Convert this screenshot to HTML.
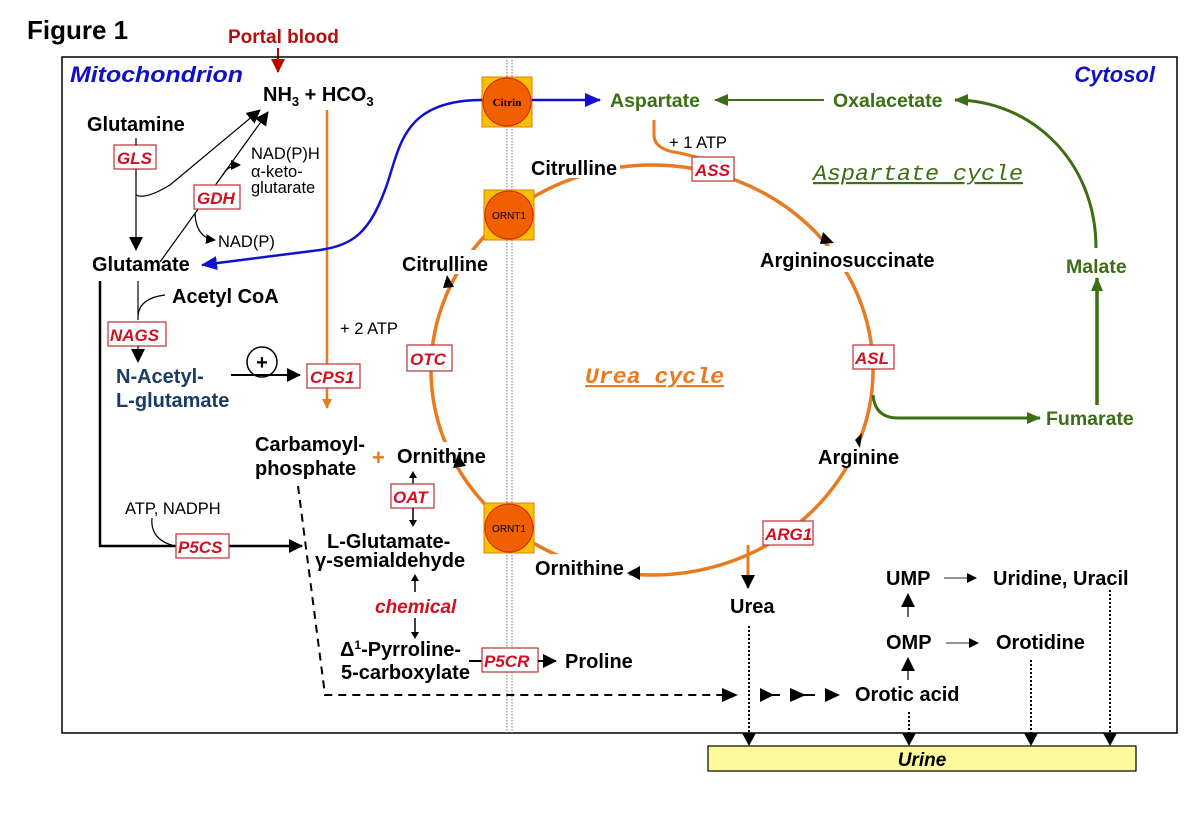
<!DOCTYPE html>
<html><head><meta charset="utf-8"><style>
html,body{margin:0;padding:0;background:#fff;}
svg{display:block;font-family:"Liberation Sans",Arial,sans-serif;}
.b{font-weight:bold;font-size:20px;fill:#000;}
.e{font-weight:bold;font-style:italic;font-size:17px;fill:#d01020;}
.g{font-weight:bold;font-size:19.5px;fill:#3c6e14;}
.s{font-size:16.5px;fill:#000;}
.bx{fill:#fff;stroke:#c04040;stroke-width:1.3;}
.w{fill:#fff;}
</style></head><body>
<svg width="1200" height="831" viewBox="0 0 1200 831" xmlns="http://www.w3.org/2000/svg">
<defs>
<marker id="ak" markerWidth="10" markerHeight="10" refX="9" refY="5" orient="auto" markerUnits="userSpaceOnUse"><path d="M0,0 L10,5 L0,10 z" fill="#000"/></marker>
<marker id="ak2" markerWidth="14" markerHeight="14" refX="13" refY="7" orient="auto" markerUnits="userSpaceOnUse"><path d="M0,0 L14,7 L0,14 z" fill="#000"/></marker>
<marker id="ab" markerWidth="16" markerHeight="14" refX="15" refY="7" orient="auto" markerUnits="userSpaceOnUse"><path d="M0,0 L16,7 L0,14 z" fill="#1010d0"/></marker>
<marker id="ag" markerWidth="14" markerHeight="12" refX="13" refY="6" orient="auto" markerUnits="userSpaceOnUse"><path d="M0,0 L14,6 L0,12 z" fill="#3c6e14"/></marker>
<marker id="ao" markerWidth="10" markerHeight="10" refX="9" refY="5" orient="auto" markerUnits="userSpaceOnUse"><path d="M0,0 L10,5 L0,10 z" fill="#e87a20"/></marker>
<marker id="ar" markerWidth="14" markerHeight="14" refX="13" refY="7" orient="auto" markerUnits="userSpaceOnUse"><path d="M0,0 L14,7 L0,14 z" fill="#c00000"/></marker>
</defs>

<text x="27" y="39" style="font-weight:bold;font-size:26px">Figure 1</text>
<text x="228" y="43" style="font-weight:bold;font-size:19px;fill:#b01010">Portal blood</text>
<line x1="278" y1="48" x2="278" y2="72" stroke="#c00000" stroke-width="2" marker-end="url(#ar)"/>

<rect x="62" y="57" width="1115" height="676" fill="none" stroke="#000" stroke-width="1.5"/>
<line x1="507" y1="57" x2="507" y2="733" stroke="#777" stroke-width="1" stroke-dasharray="1.5,1.5"/>
<line x1="512" y1="57" x2="512" y2="733" stroke="#777" stroke-width="1" stroke-dasharray="1.5,1.5"/>
<text x="70" y="82" style="font-weight:bold;font-style:italic;font-size:22px;fill:#1010c8" textLength="173" lengthAdjust="spacingAndGlyphs">Mitochondrion</text>
<text x="1155" y="82" text-anchor="end" style="font-weight:bold;font-style:italic;font-size:22px;fill:#1010c8">Cytosol</text>

<ellipse cx="652" cy="370" rx="221" ry="205" fill="none" stroke="#e87a20" stroke-width="3.5"/>

<line x1="327" y1="110" x2="327" y2="408" stroke="#e87a20" stroke-width="2.5" marker-end="url(#ao)"/>
<text x="340" y="334" class="s">+ 2 ATP</text>

<path d="M654,120 L654,135 Q654,150 680,153 L700,158" fill="none" stroke="#e87a20" stroke-width="3"/>
<text x="669" y="148" class="s">+ 1 ATP</text>
<line x1="748" y1="545" x2="748" y2="588" stroke="#e87a20" stroke-width="3" marker-end="url(#ak2)"/>

<rect x="528" y="154" width="92" height="24" class="w"/>
<text x="531" y="175" class="b" textLength="86" lengthAdjust="spacingAndGlyphs">Citrulline</text>
<rect x="756" y="246" width="182" height="26" class="w"/>
<text x="760" y="267" class="b">Argininosuccinate</text>
<rect x="815" y="443" width="86" height="24" class="w"/>
<text x="818" y="464" class="b">Arginine</text>
<rect x="532" y="554" width="97" height="24" class="w"/>
<text x="535" y="575" class="b">Ornithine</text>
<rect x="398" y="250" width="92" height="24" class="w"/>
<text x="402" y="271" class="b" textLength="86" lengthAdjust="spacingAndGlyphs">Citrulline</text>
<rect x="393" y="442" width="97" height="24" class="w"/>
<text x="397" y="463" class="b">Ornithine</text>

<path d="M823,232 L834,243 L820,244 z" fill="#000"/>
<path d="M855,440 L862,433 L860,448 z" fill="#000"/>
<path d="M627,573 L640,566 L640,580 z" fill="#000"/>
<path d="M458,454 L466,466 L453,468 z" fill="#000"/>
<path d="M447,275 L443,288 L454,287 z" fill="#000"/>

<rect x="692" y="157" width="42" height="24" class="bx"/><text x="695" y="176" class="e">ASS</text>
<rect x="853" y="345" width="41" height="24" class="bx"/><text x="855" y="364" class="e">ASL</text>
<rect x="763" y="521" width="50" height="24" class="bx"/><text x="765" y="540" class="e">ARG1</text>
<rect x="407" y="345" width="45" height="26" class="bx"/><text x="410" y="365" class="e">OTC</text>

<text x="585" y="383" style="font-family:'Liberation Mono',monospace;font-weight:bold;font-style:italic;font-size:22px;fill:#e87a20;text-decoration:underline" textLength="139" lengthAdjust="spacingAndGlyphs">Urea cycle</text>
<text x="813" y="180" style="font-family:'Liberation Mono',monospace;font-style:italic;font-size:22px;fill:#3c6e14;text-decoration:underline" textLength="210" lengthAdjust="spacingAndGlyphs">Aspartate cycle</text>

<rect x="482" y="77" width="50" height="50" fill="#f8c000" stroke="#e08000"/>
<circle cx="507" cy="102" r="24" fill="#f06000" stroke="#d02000"/>
<text x="507" y="106" text-anchor="middle" style="font-family:'Liberation Serif',serif;font-weight:bold;font-size:11px">Citrin</text>
<rect x="484" y="190" width="50" height="50" fill="#f8c000" stroke="#e08000"/>
<circle cx="509" cy="215" r="24" fill="#f06000" stroke="#d02000"/>
<text x="509" y="219" text-anchor="middle" style="font-size:10px">ORNT1</text>
<rect x="484" y="503" width="50" height="50" fill="#f8c000" stroke="#e08000"/>
<circle cx="509" cy="528" r="24" fill="#f06000" stroke="#d02000"/>
<text x="509" y="532" text-anchor="middle" style="font-size:10px">ORNT1</text>

<path d="M532,100 L600,100" stroke="#1010d0" stroke-width="2.5" fill="none" marker-end="url(#ab)"/>
<path d="M482,100 C400,100 400,150 385,190 C370,230 355,245 320,250 L202,265" stroke="#1010d0" stroke-width="2.5" fill="none" marker-end="url(#ab)"/>

<text x="610" y="107" class="g">Aspartate</text>
<text x="833" y="107" class="g">Oxalacetate</text>
<line x1="824" y1="100" x2="715" y2="100" stroke="#3c6e14" stroke-width="2" marker-end="url(#ag)"/>
<path d="M1096,248 C1096,160 1030,100 955,100" fill="none" stroke="#3c6e14" stroke-width="3" marker-end="url(#ag)"/>
<text x="1066" y="273" class="g">Malate</text>
<line x1="1097" y1="405" x2="1097" y2="278" stroke="#3c6e14" stroke-width="3.5" marker-end="url(#ag)"/>
<text x="1046" y="425" class="g">Fumarate</text>
<path d="M873,395 Q875,418 898,418 L1040,418" fill="none" stroke="#3c6e14" stroke-width="3" marker-end="url(#ag)"/>

<text x="263" y="101" class="b">NH<tspan dy="5" font-size="13">3</tspan><tspan dy="-5"> + HCO</tspan><tspan dy="5" font-size="13">3</tspan></text>
<text x="87" y="131" class="b">Glutamine</text>
<rect x="114" y="145" width="42" height="24" class="bx"/><text x="117" y="164" class="e">GLS</text>
<line x1="136" y1="138" x2="136" y2="145" stroke="#000" stroke-width="1.2"/>
<line x1="136" y1="169" x2="136" y2="250" stroke="#000" stroke-width="1.2" marker-end="url(#ak2)"/>
<path d="M136,195 Q145,200 170,185 L260,110" fill="none" stroke="#000" stroke-width="1.2" marker-end="url(#ak2)"/>
<line x1="160" y1="262" x2="268" y2="112" stroke="#000" stroke-width="1.2" marker-end="url(#ak2)"/>
<rect x="194" y="185" width="46" height="24" class="bx"/><text x="197" y="204" class="e">GDH</text>
<path d="M223,175 Q228,165 240,165" fill="none" stroke="#000" stroke-width="1.2" marker-end="url(#ak)"/>
<text x="251" y="159" class="s">NAD(P)H</text>
<text x="251" y="177" class="s">α-keto-</text>
<text x="251" y="193" class="s">glutarate</text>
<path d="M195,213 Q196,238 215,240" fill="none" stroke="#000" stroke-width="1.2" marker-end="url(#ak)"/>
<text x="218" y="247" class="s">NAD(P)</text>
<text x="92" y="271" class="b">Glutamate</text>
<line x1="138" y1="281" x2="138" y2="320" stroke="#000" stroke-width="1.2"/>
<path d="M138,315 Q140,298 165,295" fill="none" stroke="#000" stroke-width="1.2"/>
<text x="172" y="303" class="b">Acetyl CoA</text>
<rect x="108" y="322" width="58" height="24" class="bx"/><text x="110" y="341" class="e">NAGS</text>
<line x1="138" y1="346" x2="138" y2="362" stroke="#000" stroke-width="1.2" marker-end="url(#ak2)"/>
<text x="116" y="383" style="font-weight:bold;font-size:20px;fill:#1a3c64">N-Acetyl-</text>
<text x="116" y="407" style="font-weight:bold;font-size:20px;fill:#1a3c64">L-glutamate</text>
<line x1="231" y1="375" x2="300" y2="375" stroke="#000" stroke-width="2" marker-end="url(#ak2)"/>
<circle cx="262" cy="362" r="15" fill="none" stroke="#000" stroke-width="1.5"/>
<text x="262" y="369" text-anchor="middle" style="font-weight:bold;font-size:20px">+</text>
<rect x="307" y="364" width="53" height="24" class="bx"/><text x="310" y="383" class="e">CPS1</text>

<path d="M100,281 L100,546 L302,546" fill="none" stroke="#000" stroke-width="2.5" marker-end="url(#ak2)"/>
<text x="125" y="514" class="s">ATP, NADPH</text>
<path d="M152,518 Q150,540 175,546" fill="none" stroke="#000" stroke-width="1.2"/>
<rect x="176" y="534" width="53" height="24" class="bx"/><text x="178" y="553" class="e">P5CS</text>

<text x="255" y="451" class="b">Carbamoyl-</text>
<text x="255" y="475" class="b">phosphate</text>
<text x="372" y="465" style="font-weight:bold;font-size:22px;fill:#e87a20">+</text>
<line x1="413" y1="476" x2="413" y2="484" stroke="#000" stroke-width="1.5"/>
<path d="M409,478 L413,471 L417,478 z" fill="#000"/>
<rect x="391" y="484" width="43" height="24" class="bx"/><text x="393" y="503" class="e">OAT</text>
<line x1="413" y1="508" x2="413" y2="522" stroke="#000" stroke-width="1.5"/>
<path d="M409,520 L413,527 L417,520 z" fill="#000"/>
<text x="327" y="548" class="b">L-Glutamate-</text>
<text x="315" y="567" class="b">γ-semialdehyde</text>
<line x1="415" y1="578" x2="415" y2="592" stroke="#000" stroke-width="1.5"/>
<path d="M411,581 L415,574 L419,581 z" fill="#000"/>
<text x="375" y="613" style="font-weight:bold;font-style:italic;font-size:19px;fill:#d01020">chemical</text>
<line x1="415" y1="618" x2="415" y2="634" stroke="#000" stroke-width="1.5"/>
<path d="M411,632 L415,639 L419,632 z" fill="#000"/>
<text x="340" y="656" class="b">Δ<tspan dy="-7" font-size="12">1</tspan><tspan dy="7">-Pyrroline-</tspan></text>
<text x="341" y="679" class="b">5-carboxylate</text>
<line x1="469" y1="661" x2="482" y2="661" stroke="#000" stroke-width="2"/>
<rect x="482" y="648" width="56" height="24" class="bx"/><text x="484" y="667" class="e">P5CR</text>
<line x1="538" y1="661" x2="556" y2="661" stroke="#000" stroke-width="2" marker-end="url(#ak2)"/>
<text x="565" y="668" class="b">Proline</text>

<path d="M298,486 L325,695 L728,695" fill="none" stroke="#000" stroke-width="2" stroke-dasharray="8,6"/>
<path d="M722,688 L738,695 L722,702 z" fill="#000"/>
<line x1="760" y1="695" x2="780" y2="695" stroke="#000" stroke-width="2"/>
<path d="M760,688 L774,695 L760,702 z" fill="#000"/>
<line x1="790" y1="695" x2="815" y2="695" stroke="#000" stroke-width="2"/>
<path d="M790,688 L806,695 L790,702 z" fill="#000"/>
<path d="M825,688 L840,695 L825,702 z" fill="#000"/>

<text x="730" y="613" class="b">Urea</text>
<text x="855" y="701" class="b">Orotic acid</text>
<text x="886" y="649" class="b">OMP</text>
<text x="886" y="585" class="b">UMP</text>
<text x="996" y="649" class="b">Orotidine</text>
<text x="993" y="585" class="b">Uridine, Uracil</text>
<line x1="908" y1="680" x2="908" y2="658" stroke="#000" stroke-width="1.2" marker-end="url(#ak2)"/>
<line x1="908" y1="617" x2="908" y2="594" stroke="#000" stroke-width="1.2" marker-end="url(#ak2)"/>
<line x1="946" y1="643" x2="978" y2="643" stroke="#555" stroke-width="1.2" marker-end="url(#ak)"/>
<line x1="944" y1="578" x2="976" y2="578" stroke="#555" stroke-width="1.2" marker-end="url(#ak)"/>

<rect x="708" y="746" width="428" height="25" fill="#fdfa9c" stroke="#000" stroke-width="1.2"/>
<text x="922" y="766" text-anchor="middle" style="font-weight:bold;font-style:italic;font-size:19px">Urine</text>
<g stroke="#000" stroke-width="2" stroke-dasharray="2,2">
<line x1="749" y1="626" x2="749" y2="735"/>
<line x1="909" y1="712" x2="909" y2="735"/>
<line x1="1031" y1="660" x2="1031" y2="735"/>
<line x1="1110" y1="590" x2="1110" y2="735"/>
</g>
<g fill="#000">
<path d="M742,733 L756,733 L749,746 z"/>
<path d="M902,733 L916,733 L909,746 z"/>
<path d="M1024,733 L1038,733 L1031,746 z"/>
<path d="M1103,733 L1117,733 L1110,746 z"/>
</g>
</svg>
</body></html>
